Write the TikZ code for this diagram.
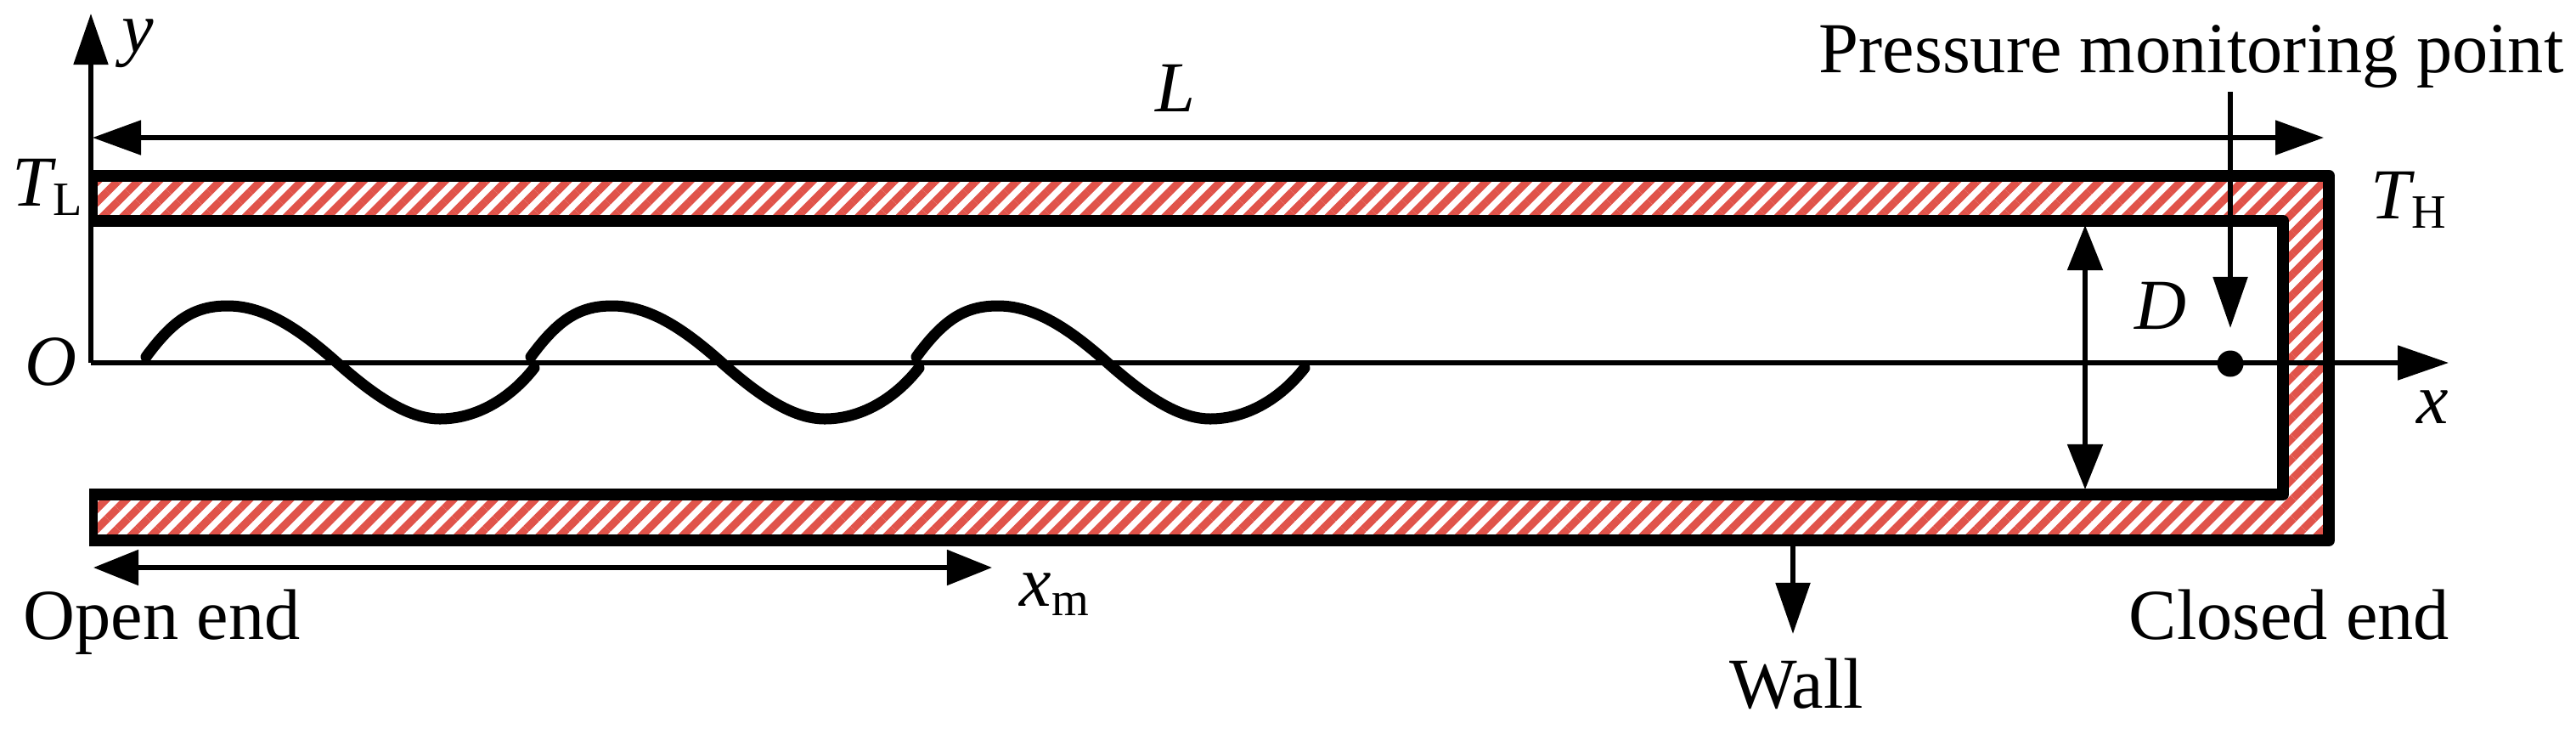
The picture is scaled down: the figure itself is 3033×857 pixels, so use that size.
\documentclass[tikz,border=0pt]{standalone}
\usepackage{fontspec}
\setmainfont{Liberation Serif}
\usetikzlibrary{arrows.meta,patterns.meta}
\newcommand{\lowsub}[1]{\raisebox{-0.14em}{\fontsize{16}{18}\selectfont #1}}
\begin{document}
\begin{tikzpicture}[x=0.01cm,y=-0.01cm]
\tikzset{lbl/.style={anchor=base west,inner sep=0pt,font=\fontsize{24}{28}\selectfont}}
\tikzset{thinline/.style={line width=0.052cm}}
\tikzset{oneway/.style={thinline,-{Triangle[length=0.6cm,width=0.4cm]}}}
\tikzset{twoway/.style={thinline,{Triangle[length=0.57cm,width=0.4cm]}-{Triangle[length=0.57cm,width=0.4cm]}}}
\tikzset{shorttwoway/.style={thinline,{Triangle[length=0.53cm,width=0.41cm]}-{Triangle[length=0.53cm,width=0.41cm]}}}
\tikzset{wallline/.style={line width=0.14cm,line join=round}}
\tikzset{wallend/.style={line width=0.09cm}}
\tikzset{hatching/.style={pattern={Lines[angle=45,distance=0.17cm,line width=0.092cm]},pattern color=wallred}}
\definecolor{wallred}{HTML}{E0534A}
\useasboundingbox (0,0) rectangle (3033,857);
\coordinate (origin) at (107,427);
\coordinate (ytip) at (107,16);
\coordinate (xtip) at (2883,427);
\coordinate (Lleft) at (109,162);
\coordinate (Lright) at (2736,162);
\coordinate (Dtop) at (2455,265);
\coordinate (Dbot) at (2455,576);
\coordinate (xmleft) at (110,668);
\coordinate (xmright) at (1168,668);
\coordinate (monstart) at (2626,108);
\coordinate (montip) at (2626,386);
\coordinate (wallstart) at (2111,643);
\coordinate (walltip) at (2111,746);
\coordinate (otl) at (105,206.5);
\coordinate (otr) at (2742,206.5);
\coordinate (obr) at (2742,636);
\coordinate (obl) at (105,636);
\coordinate (itl) at (105,260);
\coordinate (itr) at (2688,260);
\coordinate (ibr) at (2688,582);
\coordinate (ibl) at (105,582);
\fill[hatching] (otl) -- (otr) -- (obr) -- (obl) -- (ibl) -- (ibr) -- (itr) -- (itl) -- cycle;
\draw[wallline] (otl) -- (otr) -- (obr) -- (obl);
\draw[wallline] (itl) -- (itr) -- (ibr) -- (ibl);
\draw[wallend] (110,200) -- (110,267);
\draw[wallend] (110,575) -- (110,643);
\foreach \s in {0,453,907}
\draw[line width=0.13cm,line cap=round,shift={(\s,0)}] (172,420) .. controls (205,375) and (230,360) .. (268,360) .. controls (310,360) and (350,385) .. (397,427) .. controls (440,465) and (480,493) .. (518,493) .. controls (560,493) and (600,470) .. (629,433);
\draw[oneway] (origin) -- (ytip);
\draw[oneway] (origin) -- (xtip);
\draw[twoway] (Lleft) -- (Lright);
\draw[shorttwoway] (Dtop) -- (Dbot);
\draw[shorttwoway] (xmleft) -- (xmright);
\draw[oneway] (monstart) -- (montip);
\draw[oneway] (wallstart) -- (walltip);
\node[circle,fill,inner sep=0pt,minimum size=0.31cm] (monpoint) at (2626,428) {};
\node[lbl] (ylabel) at (143,61) {\textit{y}};
\node[lbl] (xlabel) at (2845,498) {\textit{x}};
\node[lbl] (Olabel) at (29,453) {\textit{O}};
\node[lbl] (Llabel) at (1360,131) {\textit{L}};
\node[lbl] (Dlabel) at (2513,387) {\textit{D}};
\node[lbl] (TLlabel) at (14,242) {\textit{T}\kern-0.05em\lowsub{L}};
\node[lbl] (THlabel) at (2791,257) {\textit{T}\kern-0.05em\lowsub{H}};
\node[lbl] (xmlabel) at (1200,713) {\textit{x}\lowsub{m}};
\node[lbl] (monlabel) at (2141,85) {Pressure monitoring point};
\node[lbl] (openlabel) at (27,752) {Open end};
\node[lbl] (closedlabel) at (2506,752) {Closed end};
\node[lbl] (walllabel) at (2036,833) {Wall};
\end{tikzpicture}
\end{document}
